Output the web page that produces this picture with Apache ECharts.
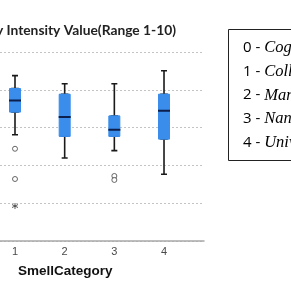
<!DOCTYPE html>
<html>
<head>
<meta charset="utf-8">
<script src="https://cdn.jsdelivr.net/npm/echarts@6/dist/echarts.min.js"></script>
<style>html,body{margin:0;padding:0;background:#fff;}#c{width:291px;height:291px;}</style>
</head>
<body>
<div id="c"></div>
<script>
const chartTitle = 'Smelly Intensity Value(Range 1-10)';
const xAxisTitle = 'SmellCategory';
const categories = [1, 2, 3, 4];
const whiskerMin = [5.62, 4.39, 4.78, 3.53];
const q1 = [6.83, 5.54, 5.54, 5.40];
const median = [7.44, 6.56, 5.89, 6.89];
const q3 = [8.06, 7.76, 6.61, 7.76];
const whiskerMax = [8.75, 8.32, 8.32, 9.01];
const outlierCat = [1, 1, 3, 3];
const outlierVal = [4.88, 3.28, 3.44, 3.23];
const extremeCat = [1];
const extremeVal = [1.85];
const legendCodes = ['0', '1', '2', '3', '4'];
const legendNames = ['Cognitive', 'Collective', 'Manual', 'Nanoscale', 'Universal'];

const BLUE = '#3A8DEB';
const NAVY = '#0B1E4C';
const INK = '#1a1a1a';

const whiskerData = categories.map((c, i) => [c, whiskerMin[i], q1[i], median[i], q3[i], whiskerMax[i]]);
const boxData = categories.map((c, i) => [c, q1[i], q1[i], median[i], q3[i], q3[i]]);
const medData = categories.map((c, i) => [c, median[i], median[i], median[i], median[i], median[i]]);
const outData = outlierCat.map((c, i) => [c, outlierVal[i]]);
const extData = extremeCat.map((c, i) => [c, extremeVal[i]]);

const xBase = {type: 'value', min: 0.698, max: 4.805, gridIndex: 0};

const chart = echarts.init(document.getElementById('c'), null, {renderer: 'canvas'});
chart.setOption({
  animation: false,
  backgroundColor: '#fff',
  grid: {left: 0, right: 87, top: 52, bottom: 50, containLabel: false},
  xAxis: [
    Object.assign({}, xBase, {
      axisLine: {show: true, onZero: true, lineStyle: {color: '#a8a8a8', width: 1.5}},
      axisTick: {show: false},
      splitLine: {show: false},
      axisLabel: {
        show: true, color: '#4a4a4a', fontSize: 11, fontFamily: 'Liberation Sans', margin: 5,
        customValues: categories,
        formatter: v => (categories.indexOf(v) >= 0) ? String(v) : ''
      }
    }),
    Object.assign({}, xBase, {show: false}),
    Object.assign({}, xBase, {show: false})
  ],
  yAxis: {
    type: 'value', min: 0, max: 10, interval: 2,
    axisLine: {show: false}, axisTick: {show: false}, axisLabel: {show: false},
    splitLine: {show: true, lineStyle: {color: '#c4c4c4', type: [2, 2], width: 1}}
  },
  series: [
    {
      type: 'boxplot', xAxisIndex: 0, data: whiskerData, boxWidth: [6, 6],
      itemStyle: {color: INK, borderColor: INK, borderWidth: 1.6},
      emphasis: {disabled: true}
    },
    {
      type: 'boxplot', xAxisIndex: 1, data: boxData, boxWidth: [11, 11],
      itemStyle: {color: BLUE, borderColor: BLUE, borderWidth: 1},
      emphasis: {disabled: true}
    },
    {
      type: 'boxplot', xAxisIndex: 2, data: medData, boxWidth: [12, 12],
      itemStyle: {color: NAVY, borderColor: NAVY, borderWidth: 2},
      emphasis: {disabled: true}
    },
    {
      type: 'scatter', xAxisIndex: 0, data: outData, symbol: 'circle', symbolSize: 5,
      itemStyle: {color: '#fff', borderColor: '#444', borderWidth: 1},
      emphasis: {disabled: true}
    },
    {
      type: 'scatter', xAxisIndex: 0, data: extData,
      symbol: 'path://M5,0 L5,10 M0.7,2.5 L9.3,7.5 M0.7,7.5 L9.3,2.5', symbolSize: 6,
      itemStyle: {color: 'none', borderColor: '#333', borderWidth: 1},
      emphasis: {disabled: true}
    }
  ],
  graphic: [
    {
      type: 'text', x: 176, y: 31, silent: true,
      style: {text: chartTitle, textAlign: 'right', textVerticalAlign: 'middle',
        font: 'bold 13.8px Lato', fill: '#222'}
    },
    {
      type: 'text', x: 18, y: 271, silent: true,
      style: {text: xAxisTitle, textAlign: 'left', textVerticalAlign: 'middle',
        font: 'bold 13.5px "Liberation Sans"', fill: '#111'}
    },
    {
      type: 'rect', x: 228.5, y: 29.5, silent: true,
      shape: {width: 120, height: 131},
      style: {fill: '#fff', stroke: '#222', lineWidth: 1}
    }
  ].concat(legendCodes.map((code, i) => ({
    type: 'text', x: 243, y: 48 + 23.6 * i, silent: true,
    style: {
      text: '{n|' + code + ' - }{i|' + legendNames[i] + '}',
      textVerticalAlign: 'middle', textAlign: 'left',
      rich: {
        n: {fontFamily: 'Open Sans', fontSize: 15, color: '#222'},
        i: {fontFamily: 'Liberation Serif', fontStyle: 'italic', fontSize: 16.5, color: '#222'}
      }
    }
  })))
});
</script>
</body>
</html>
